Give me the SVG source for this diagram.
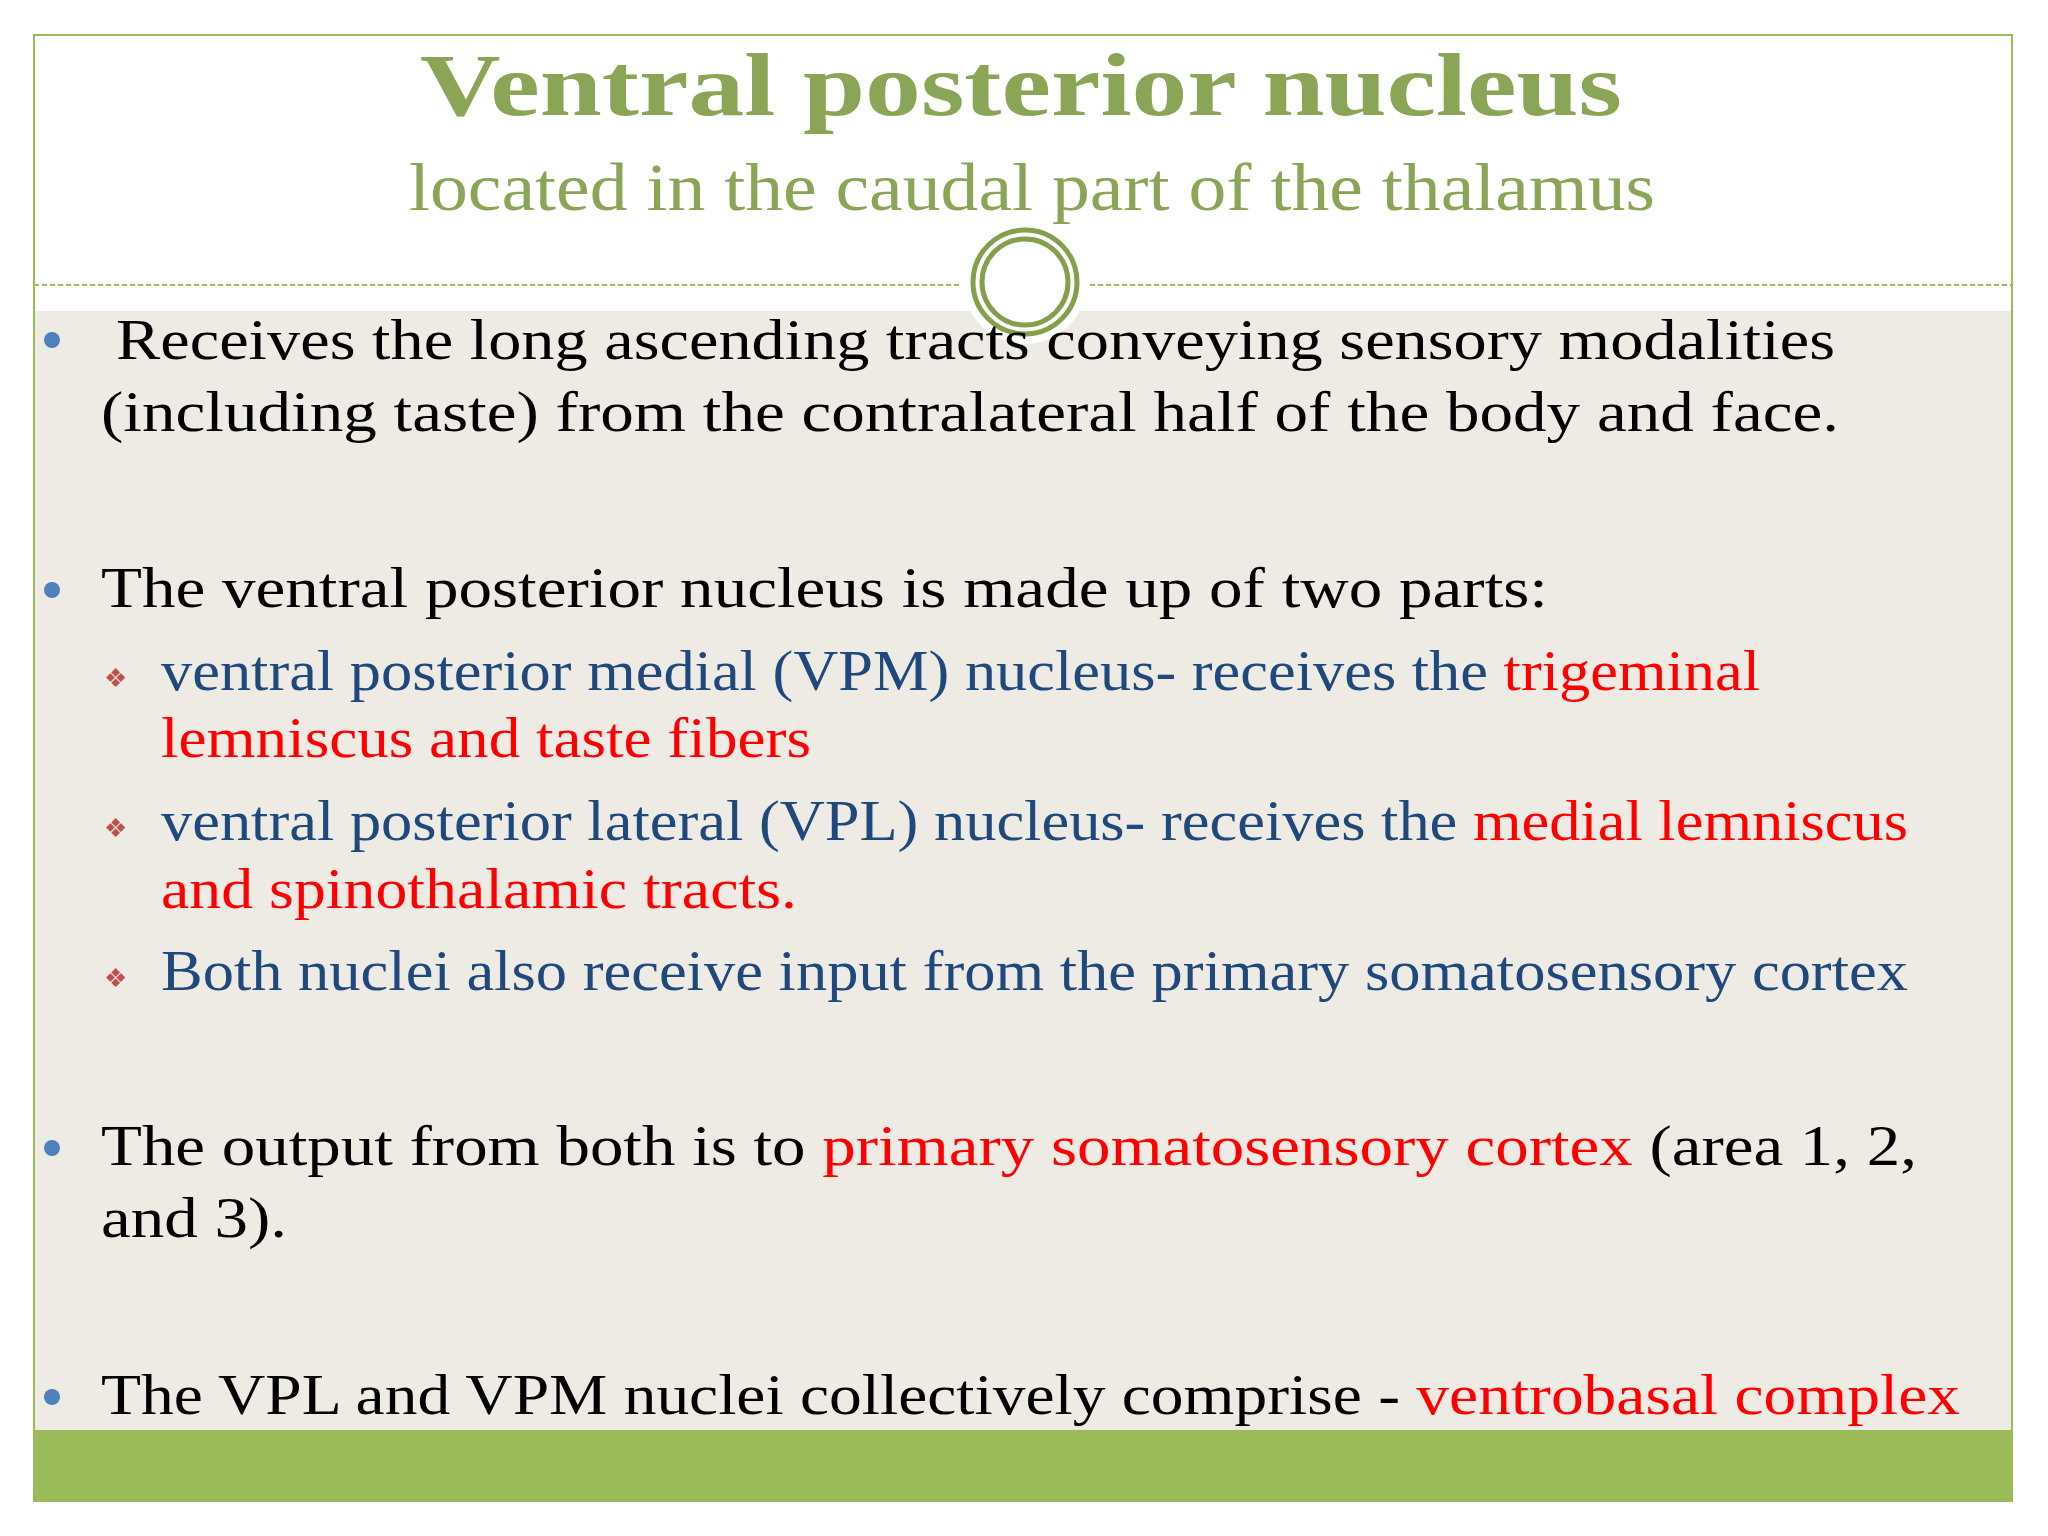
<svg xmlns="http://www.w3.org/2000/svg" width="2048" height="1536" viewBox="0 0 2048 1536">
<style>
.b{font-family:"Liberation Serif",serif;font-size:58px;fill:#000}
.s{font-family:"Liberation Serif",serif;font-size:58px;fill:#1f497d}
.r{fill:#f00}
.d{font-family:"DejaVu Sans",sans-serif;font-size:26px;fill:#c0504d}
.dot{fill:#4f81bd}
</style>
<rect width="2048" height="1536" fill="#fff"/>
<g id="background">
<rect x="34" y="311" width="1978" height="1119" fill="#eeeae4"/>
<circle cx="1025" cy="282" r="62" fill="#fff"/>
<rect x="34" y="1430" width="1978" height="71" fill="#9bbb59"/>
<rect x="34" y="35" width="1978" height="1466" fill="none" stroke="#9bbb59" stroke-width="2"/>
<line x1="34" y1="285" x2="960" y2="285" stroke="#9bbb59" stroke-width="2" stroke-dasharray="5,3"/>
<line x1="1090" y1="285" x2="2012" y2="285" stroke="#9bbb59" stroke-width="2" stroke-dasharray="5,3"/>
<circle cx="1025" cy="282" r="52" fill="none" stroke="#84a04a" stroke-width="5"/>
<circle cx="1025" cy="282" r="43" fill="#fff" stroke="#84a04a" stroke-width="5"/>
</g>
<g id="title">
<text x="420" y="115" textLength="1202" lengthAdjust="spacingAndGlyphs" style="font-family:'Liberation Serif',serif;font-weight:bold;font-size:88px;fill:#8aa555">Ventral posterior nucleus</text>
<text x="409" y="210" textLength="1246" lengthAdjust="spacingAndGlyphs" style="font-family:'Liberation Serif',serif;font-size:68px;fill:#8aa555">located in the caudal part of the thalamus</text>
</g>
<g id="body">
<circle class="dot" cx="52" cy="340" r="8"/>
<text class="b" x="116" y="359" textLength="1719" lengthAdjust="spacingAndGlyphs">Receives the long ascending tracts conveying sensory modalities</text>
<text class="b" x="101" y="431" textLength="1738" lengthAdjust="spacingAndGlyphs">(including taste) from the contralateral half of the body and face.</text>
<circle class="dot" cx="52" cy="590" r="8"/>
<text class="b" x="101" y="607" textLength="1447" lengthAdjust="spacingAndGlyphs">The ventral posterior nucleus is made up of two parts:</text>
<text class="d" x="104" y="687">❖</text>
<text class="s" x="161" y="690" textLength="1599" lengthAdjust="spacingAndGlyphs">ventral posterior medial (VPM) nucleus- receives the <tspan class="r">trigeminal</tspan></text>
<text class="s r" x="161" y="757" textLength="650" lengthAdjust="spacingAndGlyphs">lemniscus and taste fibers</text>
<text class="d" x="104" y="837">❖</text>
<text class="s" x="161" y="840" textLength="1747" lengthAdjust="spacingAndGlyphs">ventral posterior lateral (VPL) nucleus- receives the <tspan class="r">medial lemniscus</tspan></text>
<text class="s r" x="161" y="908" textLength="636" lengthAdjust="spacingAndGlyphs">and spinothalamic tracts.</text>
<text class="d" x="104" y="987">❖</text>
<text class="s" x="161" y="990" textLength="1747" lengthAdjust="spacingAndGlyphs">Both nuclei also receive input from the primary somatosensory cortex</text>
<circle class="dot" cx="52" cy="1148" r="8"/>
<text class="b" x="101" y="1165" textLength="1816" lengthAdjust="spacingAndGlyphs">The output from both is to <tspan class="r">primary somatosensory cortex</tspan> (area 1, 2,</text>
<text class="b" x="101" y="1237" textLength="186" lengthAdjust="spacingAndGlyphs">and 3).</text>
<circle class="dot" cx="52" cy="1397" r="8"/>
<text class="b" x="101" y="1414" textLength="1859" lengthAdjust="spacingAndGlyphs">The VPL and VPM nuclei collectively comprise - <tspan class="r">ventrobasal complex</tspan></text>
</g>
</svg>
